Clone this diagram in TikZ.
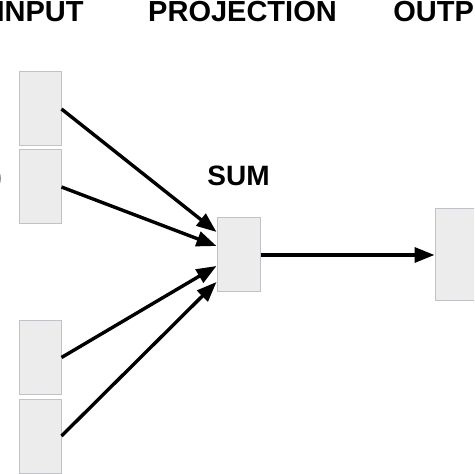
\documentclass[tikz,border=0pt]{standalone}
\usepackage{fontspec}
\setmainfont{Liberation Sans}
\usetikzlibrary{arrows.meta}
\definecolor{boxfill}{HTML}{ECECEC}
\definecolor{boxline}{HTML}{BFC3C8}
\begin{document}
\begin{tikzpicture}[x=0.5pt,y=-0.5pt,
  box/.style={draw=boxline,fill=boxfill,line width=0.5pt,inner sep=0pt,minimum width=21pt,minimum height=37pt},
  conn/.style={line width=1.7pt,-{Triangle[length=10pt,width=7.5pt]}},
  head/.style={font=\fontsize{14.5}{16}\selectfont\bfseries,inner sep=0pt}]
\useasboundingbox (0,0) rectangle (474,474);
\clip (0,0) rectangle (474,474);
% headings
\node[head,anchor=base east] (hin) at (84,21.5) {INPUT};
\node[head,anchor=base] (hproj) at (242.5,21.5) {PROJECTION};
\node[head,anchor=base west] (hout) at (393,21.5) {OUTPUT};
\node[head,font=\fontsize{14}{16}\selectfont\bfseries,anchor=base] (hsum) at (238.5,186) {SUM};
% fragment of a cut-off label
\node[head,anchor=base east] (frag) at (2.5,187) {)};
% boxes
\node[box] (in1) at (40,109) {};
\node[box] (in2) at (40,187) {};
\node[box] (in3) at (40,357.5) {};
\node[box] (in4) at (40,436) {};
\node[box,minimum width=21.5pt] (sum) at (238.5,255) {};
\node[box,minimum width=20.5pt,minimum height=46pt] (out) at (455.5,255) {};
% connectors
\draw[conn] (in1.east) -- ([yshift=11.5pt]sum.west);
\draw[conn] (in2.east) -- ([yshift=4.5pt]sum.west);
\draw[conn] (in3.east) -- ([yshift=-5.5pt]sum.west);
\draw[conn] (in4.east) -- ([yshift=-13.5pt]sum.west);
\draw[conn] (sum.east) -- (out.west);
\end{tikzpicture}
\end{document}
